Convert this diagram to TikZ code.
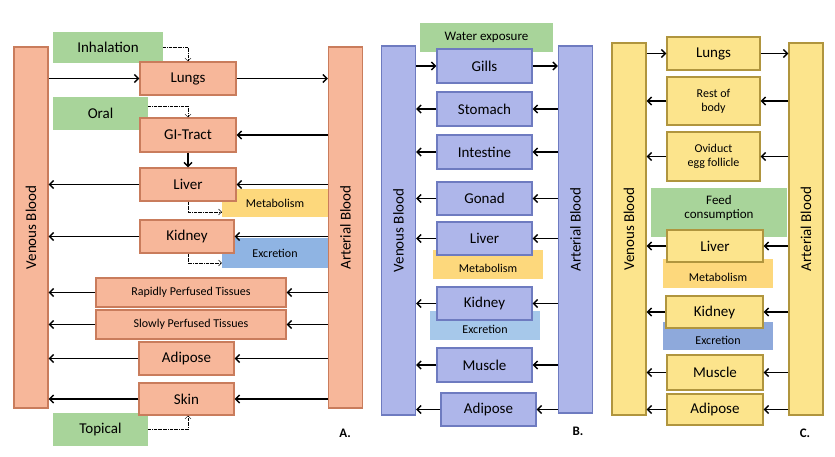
\documentclass[tikz,border=0pt]{standalone}
\usepackage{fontspec}
\setmainfont{Carlito}
\usetikzlibrary{arrows.meta}
\definecolor{orF}{HTML}{F7B79A}\definecolor{orD}{HTML}{C97C5C}
\definecolor{blF}{HTML}{AEB6EA}\definecolor{blD}{HTML}{6E7BC0}
\definecolor{yeF}{HTML}{FCE48C}\definecolor{yeD}{HTML}{B0953E}
\definecolor{grF}{HTML}{A8D49A}
\definecolor{meF}{HTML}{FDD87C}
\definecolor{exA}{HTML}{8FB4E3}\definecolor{exB}{HTML}{A6C8EA}\definecolor{exC}{HTML}{8EA9DB}
\tikzset{
 box/.style={draw=#1D, fill=#1F, line width=1.3pt, inner sep=0pt, font=\fontsize{15}{16}\selectfont},
 flat/.style={fill=#1, inner sep=0pt, font=\fontsize{12}{13}\selectfont, align=center},
 bar/.style={box=#1, rotate=90, minimum height=34pt, font=\fontsize{15}{16}\selectfont},
 ar/.style={line width=1.4pt, -{Straight Barb[length=4pt,width=8pt]}},
 dd/.style={densely dashdotted, thin, -{Straight Barb[length=3pt,width=6pt]}},
 lab/.style={font=\bfseries\fontsize{13}{14}\selectfont}
}
\newcommand{\bx}[6]{\node[#1, minimum width=#4-#3, minimum height=#6-#5] (#2) at ({(#3+#4)/2},{(#5+#6)/2})}
\begin{document}
\begin{tikzpicture}[x=1pt,y=-1pt]
\useasboundingbox (0,0) rectangle (835,456);
\fill[white] (0,0) rectangle (835,456);
% ---------- A
\node[bar=or, minimum width=361pt] (vA) at (31,227.5) {Venous Blood};
\node[bar=or, minimum width=361pt] (aA) at (345.5,227.5) {Arterial Blood};
\bx{flat=grF,font=\fontsize{15}{16}\selectfont}{inh}{53}{163}{32}{63} {Inhalation};
\bx{flat=grF,font=\fontsize{15}{16}\selectfont}{oral}{53}{148}{97}{130} {Oral};
\bx{flat=grF,font=\fontsize{15}{16}\selectfont}{top}{53}{148}{413}{446} {Topical};
\bx{flat=meF}{metA}{222}{328}{189}{217} {Metabolism};
\bx{flat=exA}{excA}{222}{328}{238}{268} {Excretion};
\bx{box=or}{lungA}{140}{236}{62}{95} {Lungs};
\bx{box=or}{gi}{140}{236}{118}{152} {GI-Tract};
\bx{box=or}{livA}{140}{236}{168}{201} {Liver};
\bx{box=or}{kidA}{140}{234}{220}{253} {Kidney};
\bx{box=or,font=\fontsize{12}{13}\selectfont}{rap}{96}{286}{278}{307} {Rapidly Perfused Tissues};
\bx{box=or,font=\fontsize{12}{13}\selectfont}{slo}{96}{286}{310}{339} {Slowly Perfused Tissues};
\bx{box=or}{adiA}{139}{234}{342}{375} {Adipose};
\bx{box=or}{skin}{139}{234}{383}{415} {Skin};
\node[lab] (labA) at (345,433) {A.};
\draw[ar] (vA.south |- lungA.west) -- (lungA.west);
\draw[ar] (lungA.east) -- (aA.north |- lungA.east);
\draw[ar] (aA.north |- gi.east) -- (gi.east);
\draw[ar] (gi.south) -- (livA.north);
\foreach \n in {livA,kidA,rap,slo,adiA,skin}{
 \draw[ar] (aA.north |- \n.east) -- (\n.east);
 \draw[ar] (\n.west) -- (vA.south |- \n.west);}
\draw[dd] (inh.east |- 0,47) -| (lungA.north);
\draw[dd] (oral.east |- 0,106) -| (gi.north);
\draw[dd] (livA.south) |- (metA.west |- 0,212);
\draw[dd] (kidA.south -| gi.south) |- (excA.west |- 0,263);
\draw[dd] (top.east) -| (skin.south -| gi.south);
% ---------- B
\node[bar=bl, minimum width=369pt] (vB) at (398.5,230.5) {Venous Blood};
\node[bar=bl, minimum width=367pt] (aB) at (575.5,229.5) {Arterial Blood};
\bx{flat=grF,font=\fontsize{13}{14}\selectfont}{wat}{420}{553}{23}{52} {Water exposure};
\bx{flat=meF}{metB}{433}{543}{250}{279} {\\[4pt]Metabolism};
\bx{flat=exB}{excB}{430}{540}{311}{340} {\\[4pt]Excretion};
\bx{box=bl}{gills}{437}{532}{49}{83} {Gills};
\bx{box=bl}{sto}{437}{532}{92}{126} {Stomach};
\bx{box=bl}{int}{437}{532}{135}{169} {Intestine};
\bx{box=bl}{gon}{437}{532}{182}{215} {Gonad};
\bx{box=bl}{livB}{437}{532}{222}{255} {Liver};
\bx{box=bl}{kidB}{437}{532}{287}{320} {Kidney};
\bx{box=bl}{musB}{437}{532}{348}{382} {Muscle};
\bx{box=bl}{adiB}{441}{536}{393}{426} {Adipose};
\node[lab] (labB) at (578,431) {B.};
\draw[ar] (vB.south |- gills.west) -- (gills.west);
\draw[ar] (gills.east) -- (aB.north |- gills.east);
\foreach \n in {sto,int,gon,livB,kidB,musB,adiB}{
 \draw[ar] (aB.north |- \n.east) -- (\n.east);
 \draw[ar] (\n.west) -- (vB.south |- \n.west);}
% ---------- C
\node[bar=ye, minimum width=372pt] (vC) at (629,229) {Venous Blood};
\node[bar=ye, minimum width=372pt] (aC) at (806,229) {Arterial Blood};
\bx{flat=grF,font=\fontsize{13}{14}\selectfont}{feed}{651}{787}{188}{237} {Feed\\consumption\\[-2pt]};
\bx{flat=meF}{metC}{663}{773}{259}{288} {\\[4pt]Metabolism};
\bx{flat=exC}{excC}{663}{773}{322}{350} {\\[4pt]Excretion};
\bx{box=ye}{lungC}{667}{760}{37}{70} {Lungs};
\bx{box=ye,font=\fontsize{12}{14}\selectfont,align=center}{rest}{667}{760}{77}{125} {Rest of\\body};
\bx{box=ye,font=\fontsize{12}{14}\selectfont,align=center}{ovi}{667}{760}{132}{181} {Oviduct\\egg follicle};
\bx{box=ye}{livC}{667}{763}{230}{262} {Liver};
\bx{box=ye}{kidC}{666}{763}{296}{328} {Kidney};
\bx{box=ye}{musC}{667}{763}{355}{390} {Muscle};
\bx{box=ye}{adiC}{667}{763}{394}{425} {Adipose};
\node[lab] (labC) at (805,433) {C.};
\draw[ar] (vC.south |- lungC.west) -- (lungC.west);
\draw[ar] (lungC.east) -- (aC.north |- lungC.east);
\foreach \n in {rest,ovi,livC,kidC,musC,adiC}{
 \draw[ar] (aC.north |- \n.east) -- (\n.east);
 \draw[ar] (\n.west) -- (vC.south |- \n.west);}
\end{tikzpicture}
\end{document}
